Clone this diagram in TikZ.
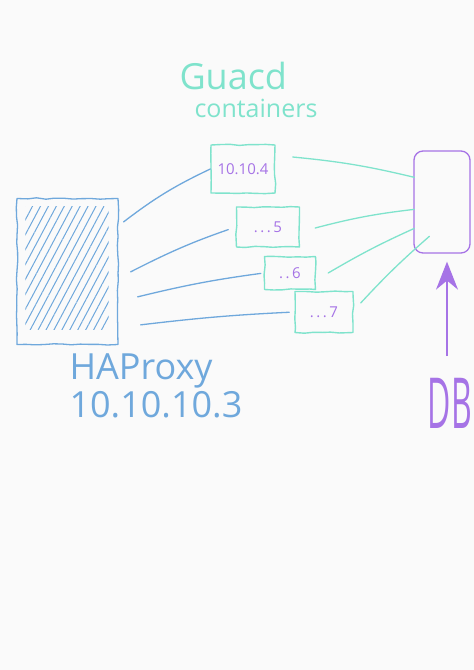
\documentclass[tikz,border=0pt]{standalone}
\usepackage{fontspec}
\setmainfont{Open Sans}
\usetikzlibrary{positioning,calc,decorations.pathmorphing,patterns.meta,arrows.meta}
\definecolor{haBlue}{HTML}{6FA8DC}
\definecolor{guacTeal}{HTML}{7FE3CC}
\definecolor{dbPurple}{HTML}{A673E6}
\tikzset{
	sketch/.style={decorate,decoration={random steps,segment length=9pt,amplitude=0.7pt},line join=round,line cap=round},
	habox/.style={draw=haBlue,line width=1.3pt,sketch,minimum width=101pt,minimum height=146pt},
	guacbox/.style={draw=guacTeal,line width=1.4pt,sketch,text=dbPurple,inner sep=0pt,font=\fontsize{15}{15}\selectfont},
	dbbox/.style={draw=dbPurple,line width=1.3pt,rounded corners=9pt,minimum width=56pt,minimum height=102pt},
	halink/.style={draw=haBlue,line width=1.3pt,line cap=round},
	dblink/.style={draw=guacTeal,line width=1.3pt,line cap=round},
}
\begin{document}
\begin{tikzpicture}[x=1pt,y=-1pt]
	\pgfmathsetseed{7}
	%Page
	\fill[white!98!black] (0,0) rectangle (474,670);
	\useasboundingbox (0,0) rectangle (474,670);
	%Title
	\node[text=guacTeal,font=\fontsize{36}{36}\selectfont,anchor=west] (guac1) at (176,76) {Guacd};
	\node[text=guacTeal,font=\fontsize{25}{25}\selectfont,anchor=west] (guac2) at (191,108) {containers};
	%HAProxy box with scribble
	\node[habox] (ha) at (67.5,271.5) {};
	\fill[pattern={Lines[angle=62,distance=7pt,line width=1pt]},pattern color=haBlue]
		($(ha.north west)+(9,9)$) rectangle ($(ha.south east)+(-10,-16)$);
	\node[text=haBlue,font=\fontsize{36}{38}\selectfont,align=left,anchor=north west] (halabel) at (66,350) {HAProxy\\10.10.10.3};
	%Guacd containers
	\node[guacbox,minimum width=64pt,minimum height=48pt] (c4) at (243,169) {10.10.4};
	\node[guacbox,minimum width=63pt,minimum height=40pt] (c5) at (268,227) {.\,.\,.\,5};
	\node[guacbox,minimum width=51pt,minimum height=33pt] (c6) at (290,273) {.\,.\,6};
	\node[guacbox,minimum width=58pt,minimum height=41pt] (c7) at (324,312) {.\,.\,.\,7};
	%DB
	\node[dbbox] (db) at (442,202) {};
	\coordinate (dbfoot) at (447,356);
	\draw[draw=dbPurple,line width=1.4pt,-{Stealth[length=28pt,width=22pt]},shorten >=8pt] (dbfoot) -- (dbfoot |- db.south);
	\node[text=dbPurple,font=\fontsize{32}{32}\selectfont,inner sep=1pt,anchor=north east] (dblabel) at (473,377) {\scalebox{1}[2.2]{DB}};
	%HAProxy to containers
	\draw[halink] ($(ha.north east)+(5,24)$) to[bend left=6] (c4.west);
	\draw[halink,shorten >=8pt] ($(ha.north east)+(12,74)$) to[bend left=4] (c5.west);
	\draw[halink,shorten >=3pt] ($(ha.north east)+(19,99)$) to[bend left=3] (c6.west);
	\draw[halink,shorten >=5pt] ($(ha.north east)+(22,127)$) to[bend left=2] (c7.west);
	%Containers to DB
	\draw[dblink] ($(c4.east)+(17,-12)$) to[bend left=4] ($(db.north west)+(1,27)$);
	\draw[dblink] ($(c5.east)+(15,1)$) to[bend left=4] ($(db.north west)+(1,59)$);
	\draw[dblink] ($(c6.east)+(12,0)$) to[bend left=3] ($(db.north west)+(1,78)$);
	\draw[dblink] ($(c7.east)+(7,-9)$) to[bend left=3] ($(db.north west)+(16,86)$);
\end{tikzpicture}
\end{document}
